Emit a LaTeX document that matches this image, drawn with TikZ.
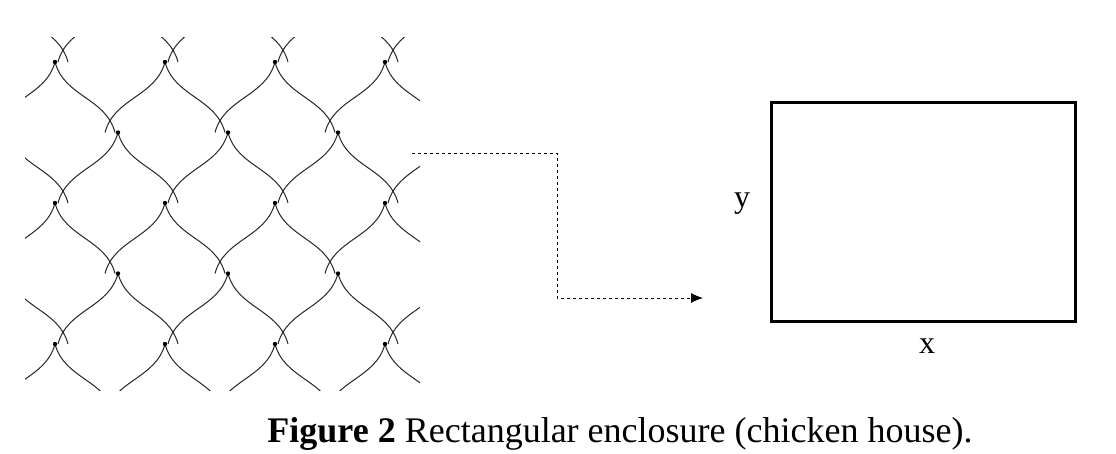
\documentclass[tikz,border=0pt]{standalone}
\usepackage{fontspec}
\setmainfont{Liberation Serif}
\usetikzlibrary{arrows.meta}
\begin{document}
\begin{tikzpicture}[x=1pt,y=-1pt,
  net/.style={line width=1pt,black!85},
  lab/.style={font=\fontsize{32}{36}\selectfont,inner sep=0pt}]
\useasboundingbox (0,0) rectangle (1116,454);
\begin{scope}
\clip (25,38) rectangle (420,390);
\foreach \r in {-1,...,6}{
  \foreach \k in {-1,...,4}{
    \pgfmathsetmacro{\y}{62+70.5*\r}
    \pgfmathsetmacro{\x}{int(mod(\r+2,2))==0 ? 55+110*\k : 118+110*\k}
    \pgfmathsetmacro{\ya}{\y+70.5}
    \pgfmathsetmacro{\xl}{\x-60}
    \pgfmathsetmacro{\xr}{\x+60}
    \draw[net] (\x,\y) to[out=-75,in=105,looseness=1] (\xr,\ya);
    \draw[net] (\x,\y) to[out=-105,in=75,looseness=1] (\xl,\ya);
    \fill (\x,\y) circle (2.2pt);
  }
}
\end{scope}
\coordinate (s) at (412,153);
\coordinate (m1) at (557,153);
\coordinate (m2) at (557,298);
\coordinate (e) at (703,298);
\draw[dashed,line width=0.9pt,-{Latex[length=12pt,width=10pt]}] (s) -- (m1) -- (m2) -- (e);
\node[draw,line width=3pt,minimum width=304pt,minimum height=218pt,anchor=north west] (rect) at (769.5,101.5) {};
\node[lab] (ylab) at (742,204) {y};
\node[lab] (xlab) at (927,346) {x};
\node[lab,font=\fontsize{36}{40}\selectfont] (cap) at (620,434) {\textbf{Figure 2} Rectangular enclosure (chicken house).};
\end{tikzpicture}
\end{document}
